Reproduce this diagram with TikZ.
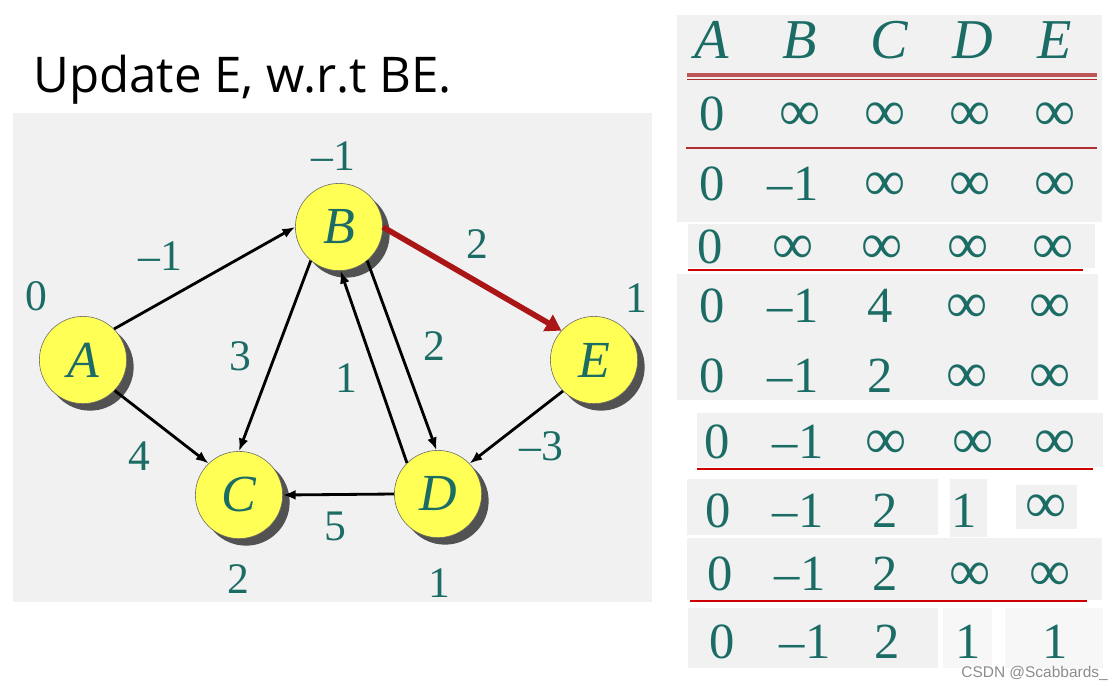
\documentclass[tikz,border=0pt]{standalone}
\usepackage{fontspec}
\setmainfont{Liberation Serif}
\newfontfamily\titlefont{Open Sans}
\newfontfamily\markfont{Liberation Sans}
\usetikzlibrary{arrows.meta}
\usetikzlibrary{shadows}

\definecolor{tealtext}{RGB}{28,108,102}
\definecolor{panelgray}{RGB}{241,241,241}
\definecolor{nodeyellow}{RGB}{255,255,85}
\definecolor{darkred}{RGB}{170,22,22}
\definecolor{linered}{RGB}{175,45,45}
\definecolor{brightred}{RGB}{205,0,0}

\newcommand{\inft}{{\fontsize{41}{41}\selectfont ∞}}

\begin{document}
\begin{tikzpicture}[x=0.025cm,y=-0.025cm,
  vertex/.style={circle,draw=black!60,thin,fill=nodeyellow,minimum size=2.18cm,inner sep=0pt,
    font=\fontsize{37}{40}\selectfont\itshape,text=tealtext,
    drop shadow={shadow xshift=5pt,shadow yshift=-5pt,fill=black!68,opacity=1}},
  glabel/.style={font=\fontsize{31}{34}\selectfont,text=tealtext,anchor=base},
  cell/.style={font=\fontsize{36}{40}\selectfont,text=tealtext,anchor=base},
  head/.style={cell,font=\fontsize{40}{44}\selectfont\itshape},
  edge/.style={draw=black,line width=2pt,-{Latex[length=9pt,width=7pt]}}]
\useasboundingbox (0,0) rectangle (1118,685);
\fill[white] (0,0) rectangle (1118,685);

% title
\node[font=\titlefont\fontsize{35}{38}\selectfont,anchor=base west,inner sep=0pt] (title) at (33,92) {Update E, w.r.t BE.};

% graph panel
\fill[panelgray] (13,113) rectangle (652,602);
\node[vertex] (A) at (83,360) {A};
\node[vertex] (B) at (339,227) {B};
\node[vertex] (C) at (239,495) {C};
\node[vertex] (D) at (438,494) {D};
\node[vertex] (E) at (594,360) {E};

\draw[edge] (A.45) -- (B.180);
\draw[edge] (A.-44) -- (C.134);
\draw[edge] (B.-130) -- (C.90);
\draw[edge] (B.-50) -- (D.92);
\draw[edge] (D.135) -- (B.-88);
\draw[edge] (E.-135) -- (D.44);
\draw[edge] (D.180) -- (C.0);
\draw[darkred,line width=4pt,-{Triangle[length=11pt,width=13pt]}] (B.0) -- (E.138);

% distances
\node[glabel] (dA) at (36,310) {0};
\node[glabel] (dB) at (333,170) {–1};
\node[glabel] (dE) at (636,312) {1};
\node[glabel] (dC) at (238,593) {2};
\node[glabel] (dD) at (439,597) {1};

% weights
\node[glabel] (wAB) at (160,270) {–1};
\node[glabel] (wBE) at (477,258) {2};
\node[glabel] (wBC) at (240,370) {3};
\node[glabel] (wDB) at (346,392) {1};
\node[glabel] (wBD) at (434,360) {2};
\node[glabel] (wAC) at (139,470) {4};
\node[glabel] (wED) at (541,460) {–3};
\node[glabel] (wDC) at (335,540) {5};

% table patches
\fill[panelgray] (677,15) rectangle (1102,222);
\fill[panelgray] (688,224) rectangle (1095,268);
\fill[panelgray] (677,274) rectangle (1098,400);
\fill[panelgray] (697,413) rectangle (1103,467);
\fill[panelgray] (687,479) rectangle (938,535);
\fill[panelgray] (950,479) rectangle (987,537);
\fill[panelgray] (1016,485) rectangle (1077,529);
\fill[panelgray] (687,538) rectangle (1102,600);
\fill[panelgray] (688,608) rectangle (938,668);
\fill[panelgray!60] (943,608) rectangle (992,668);
\fill[panelgray!60] (1005,608) rectangle (1103,668);

% table rules
\draw[linered!80,line width=2.4pt] (687,75) -- (1097,75);
\draw[linered,line width=0.8pt] (687,79.5) -- (1097,79.5);
\draw[linered,line width=1pt] (686,148) -- (1097,148);
\draw[brightred,line width=1pt] (688,270) -- (1083,270);
\draw[brightred,line width=1pt] (697,469) -- (1093,469);
\draw[brightred,line width=1pt] (690,601) -- (1087,601);

% header
\node[head] (hA) at (712,58) {A};
\node[head] (hB) at (800,58) {B};
\node[head] (hC) at (889,58) {C};
\node[head] (hD) at (973,58) {D};
\node[head] (hE) at (1055,58) {E};

% rows
\node[cell] (r1a) at (712,130) {0};
\node[cell] (r1b) at (800,130) {\inft};
\node[cell] (r1c) at (885,130) {\inft};
\node[cell] (r1d) at (970,130) {\inft};
\node[cell] (r1e) at (1055,130) {\inft};

\node[cell] (r2a) at (712,200) {0};
\node[cell] (r2b) at (793,200) {–1};
\node[cell] (r2c) at (885,200) {\inft};
\node[cell] (r2d) at (970,200) {\inft};
\node[cell] (r2e) at (1055,200) {\inft};

\node[cell] (r3a) at (710,263) {0};
\node[cell] (r3b) at (793,263) {\inft};
\node[cell] (r3c) at (882,263) {\inft};
\node[cell] (r3d) at (968,263) {\inft};
\node[cell] (r3e) at (1053,263) {\inft};

\node[cell] (r4a) at (712,322) {0};
\node[cell] (r4b) at (793,322) {–1};
\node[cell] (r4c) at (880,322) {4};
\node[cell] (r4d) at (967,322) {\inft};
\node[cell] (r4e) at (1050,322) {\inft};

\node[cell] (r5a) at (712,392) {0};
\node[cell] (r5b) at (793,392) {–1};
\node[cell] (r5c) at (880,392) {2};
\node[cell] (r5d) at (967,392) {\inft};
\node[cell] (r5e) at (1050,392) {\inft};

\node[cell] (r6a) at (717,458) {0};
\node[cell] (r6b) at (798,458) {–1};
\node[cell] (r6c) at (886,458) {\inft};
\node[cell] (r6d) at (973,458) {\inft};
\node[cell] (r6e) at (1055,458) {\inft};

\node[cell] (r7a) at (718,527) {0};
\node[cell] (r7b) at (798,527) {–1};
\node[cell] (r7c) at (885,527) {2};
\node[cell] (r7d) at (964,527) {1};
\node[cell] (r7e) at (1046,522) {\inft};

\node[cell] (r8a) at (720,590) {0};
\node[cell] (r8b) at (800,590) {–1};
\node[cell] (r8c) at (885,590) {2};
\node[cell] (r8d) at (970,590) {\inft};
\node[cell] (r8e) at (1050,590) {\inft};

\node[cell] (r9a) at (722,658) {0};
\node[cell] (r9b) at (805,658) {–1};
\node[cell] (r9c) at (887,658) {2};
\node[cell] (r9d) at (968,658) {1};
\node[cell] (r9e) at (1055,658) {1};

% watermark
\node[font=\markfont\fontsize{11}{13}\selectfont,text=black!45,anchor=base east,inner sep=0pt] (mark) at (1108,677) {CSDN @Scabbards\_};

\end{tikzpicture}
\end{document}
